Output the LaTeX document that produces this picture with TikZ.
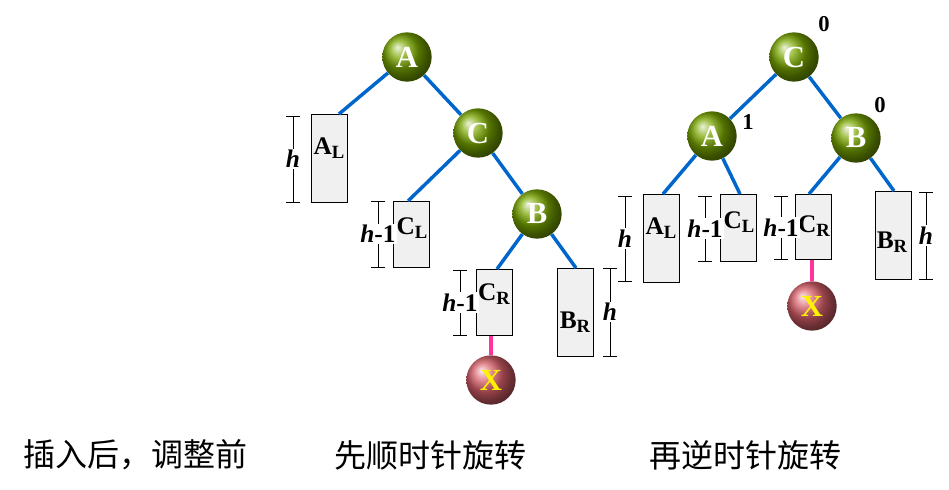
\documentclass[tikz,border=0pt]{standalone}
\usepackage{fontspec}
\setmainfont{Liberation Serif}
\newfontfamily\cjk{Noto Sans CJK SC}
\begin{document}
\begin{tikzpicture}[x=0.75pt,y=-0.75pt,
 ball/.style={circle,minimum size=37pt,inner sep=0pt,shading=ball,ball color={rgb,255:red,120;green,165;blue,0},text=white,font=\fontsize{23}{23}\selectfont\bfseries},
 xball/.style={circle,minimum size=37pt,inner sep=0pt,shading=ball,ball color={rgb,255:red,215;green,95;blue,105},text=yellow,font=\fontsize{23}{23}\selectfont\bfseries},
 edge/.style={line width=2.6pt,draw={rgb,255:red,0;green,102;blue,204}},
 pedge/.style={line width=2.6pt,draw={rgb,255:red,255;green,51;blue,153}},
 sub/.style={draw=black,fill=gray!12,minimum width=27pt,inner sep=0pt},
 slab/.style={font=\fontsize{19}{19}\selectfont\bfseries,inner sep=0pt},
 blab/.style={font=\fontsize{19}{19}\selectfont\bfseries,fill=white,inner sep=1pt},
 num/.style={font=\fontsize{17}{17}\selectfont\bfseries},
 captxt/.style={font=\cjk\fontsize{24}{24}\selectfont}]
\useasboundingbox (0,0) rectangle (949,489);
\newcommand\mybrk[4]{\draw (#1-7,#2)--(#1+7,#2) (#1-7,#3)--(#1+7,#3) (#1,#2)--(#1,#3);
 \node[blab] at (#1,{(#2+#3)/2}) {#4};}
\newcommand\hm{\textit{h}-1}
\newcommand\mysb[1]{\raisebox{-0.3ex}{\fontsize{14}{14}\selectfont #1}}
% ---- left tree
\node[ball] (A1) at (407,57) {A};
\node[ball] (C1) at (478,133) {C};
\node[ball] (B1) at (537,214) {B};
\node[sub,minimum height=66pt,anchor=north west] (AL1) at (311,114) {};
\node[sub,minimum height=49.5pt,anchor=north west] (CL1) at (393,201) {};
\node[sub,minimum height=49.5pt,anchor=north west] (CR1) at (476,269) {};
\node[sub,minimum height=66pt,anchor=north west] (BR1) at (557,268) {};
\node[xball] (X1) at (491,380) {X};
\coordinate (al1) at (339,114);
\coordinate (cl1) at (408,201);
\coordinate (cr1) at (497,269);
\coordinate (br1) at (576,268);
\draw[edge] (A1)--(al1); \draw[edge] (A1)--(C1);
\draw[edge] (C1)--(cl1); \draw[edge] (C1)--(B1);
\draw[edge] (B1)--(cr1); \draw[edge] (B1)--(br1);
\draw[pedge] (CR1.south-|X1)--(X1);
\node[slab] at (329,148) {A\mysb{L}};
\node[slab] at (412,228) {C\mysb{L}};
\node[slab] at (494,294) {C\mysb{R}};
\node[slab] at (575,322) {B\mysb{R}};
\mybrk{293}{116}{202}{\textit{h}}
\mybrk{378}{201}{267}{\hm}
\mybrk{460}{270}{335}{\hm}
\mybrk{610}{268}{356}{\textit{h}}
% ---- right tree
\node[ball] (C2) at (794,57) {C};
\node[ball] (A2) at (712,136) {A};
\node[ball] (B2) at (856,138) {B};
\node[num] at (824,24) {0};
\node[num] at (748,122) {1};
\node[num] at (880,105) {0};
\node[sub,minimum height=66pt,anchor=north west] (AL2) at (643,194) {};
\node[sub,minimum height=50pt,anchor=north west] (CL2) at (720,194) {};
\node[sub,minimum height=49pt,anchor=north west] (CR2) at (795,194) {};
\node[sub,minimum height=66pt,anchor=north west] (BR2) at (875,191) {};
\node[xball] (X2) at (812,306) {X};
\coordinate (al2) at (663,194);
\coordinate (cl2) at (740,194);
\coordinate (cr2) at (809,194);
\coordinate (br2) at (894,191);
\draw[edge] (C2)--(A2); \draw[edge] (C2)--(B2);
\draw[edge] (A2)--(al2); \draw[edge] (A2)--(cl2);
\draw[edge] (B2)--(cr2); \draw[edge] (B2)--(br2);
\draw[pedge] (CR2.south-|X2)--(X2);
\node[slab] at (661,228) {A\mysb{L}};
\node[slab] at (739,222) {C\mysb{L}};
\node[slab] at (814,226) {C\mysb{R}};
\node[slab] at (892,242) {B\mysb{R}};
\mybrk{625}{196}{281}{\textit{h}}
\mybrk{705}{196}{261}{\hm}
\mybrk{781}{196}{259}{\hm}
\mybrk{926}{192}{279}{\textit{h}}
% ---- captions
\node[captxt] (t1) at (135,455) {插入后，调整前};
\node[captxt] (t2) at (430,455) {先顺时针旋转};
\node[captxt] (t3) at (745,455) {再逆时针旋转};
\end{tikzpicture}
\end{document}
